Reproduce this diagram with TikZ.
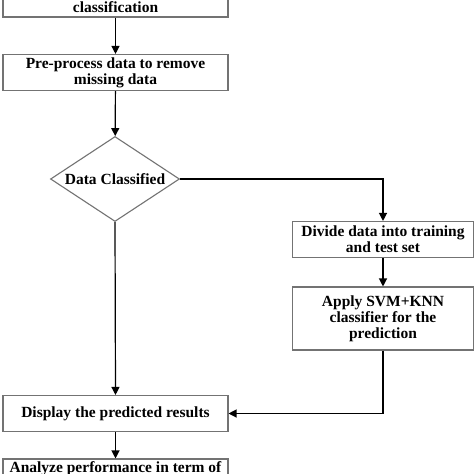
\documentclass[tikz,border=0pt]{standalone}
\usepackage{fontspec}
\setmainfont{Liberation Serif}
\usetikzlibrary{shapes.geometric,arrows.meta}
\begin{document}
\begin{tikzpicture}[x=1pt, y=-1pt,
        stepbox/.style={draw=black!55, line width=1.1pt, fill=white, align=center,
            minimum width=225pt, minimum height=36pt, inner sep=1pt,
            font=\bfseries\fontsize{15.5}{16}\selectfont},
        decision/.style={diamond, aspect=1.5, draw=black!55, line width=1.1pt, fill=white,
            minimum width=129pt, minimum height=85pt, inner sep=0pt,
            font=\bfseries\fontsize{15.5}{16}\selectfont},
        flow/.style={line width=1.2pt, -{Triangle[length=8pt, width=8pt]}}]
    \useasboundingbox (0, 0) rectangle (474, 474);
    \fill[white] (0, 0) rectangle (474, 474);
    % left column
    \node[stepbox] (classify) at (115.5, -1) {\strut\\classification};
    \node[stepbox] (preprocess) at (115.5, 72.5) {Pre-process data to remove\\missing data};
    \node[decision] (classified) at (115, 179) {Data Classified};
    \node[stepbox] (display) at (115.5, 413.5) {Display the predicted results};
    \node[stepbox] (analyze) at (115.5, 477) {Analyze performance in term of\\\strut};
    % right column
    \node[stepbox, minimum width=181pt] (divide) at (383, 239.5) {Divide data into training\\and test set};
    \node[stepbox, minimum width=181pt, minimum height=63pt] (apply) at (383, 318.5) {Apply SVM+KNN\\classifier for the\\prediction};
    % connectors
    \draw[flow] (classify) -- (preprocess);
    \draw[flow] (preprocess) -- (classified);
    \draw[flow] (classified.east) -| (divide.north);
    \draw[flow] (divide) -- (apply);
    \draw[flow] (apply.south) |- (display.east);
    \draw[flow] (classified.south) -- (display.north);
    \draw[flow] (display) -- (analyze);
\end{tikzpicture}
\end{document}
